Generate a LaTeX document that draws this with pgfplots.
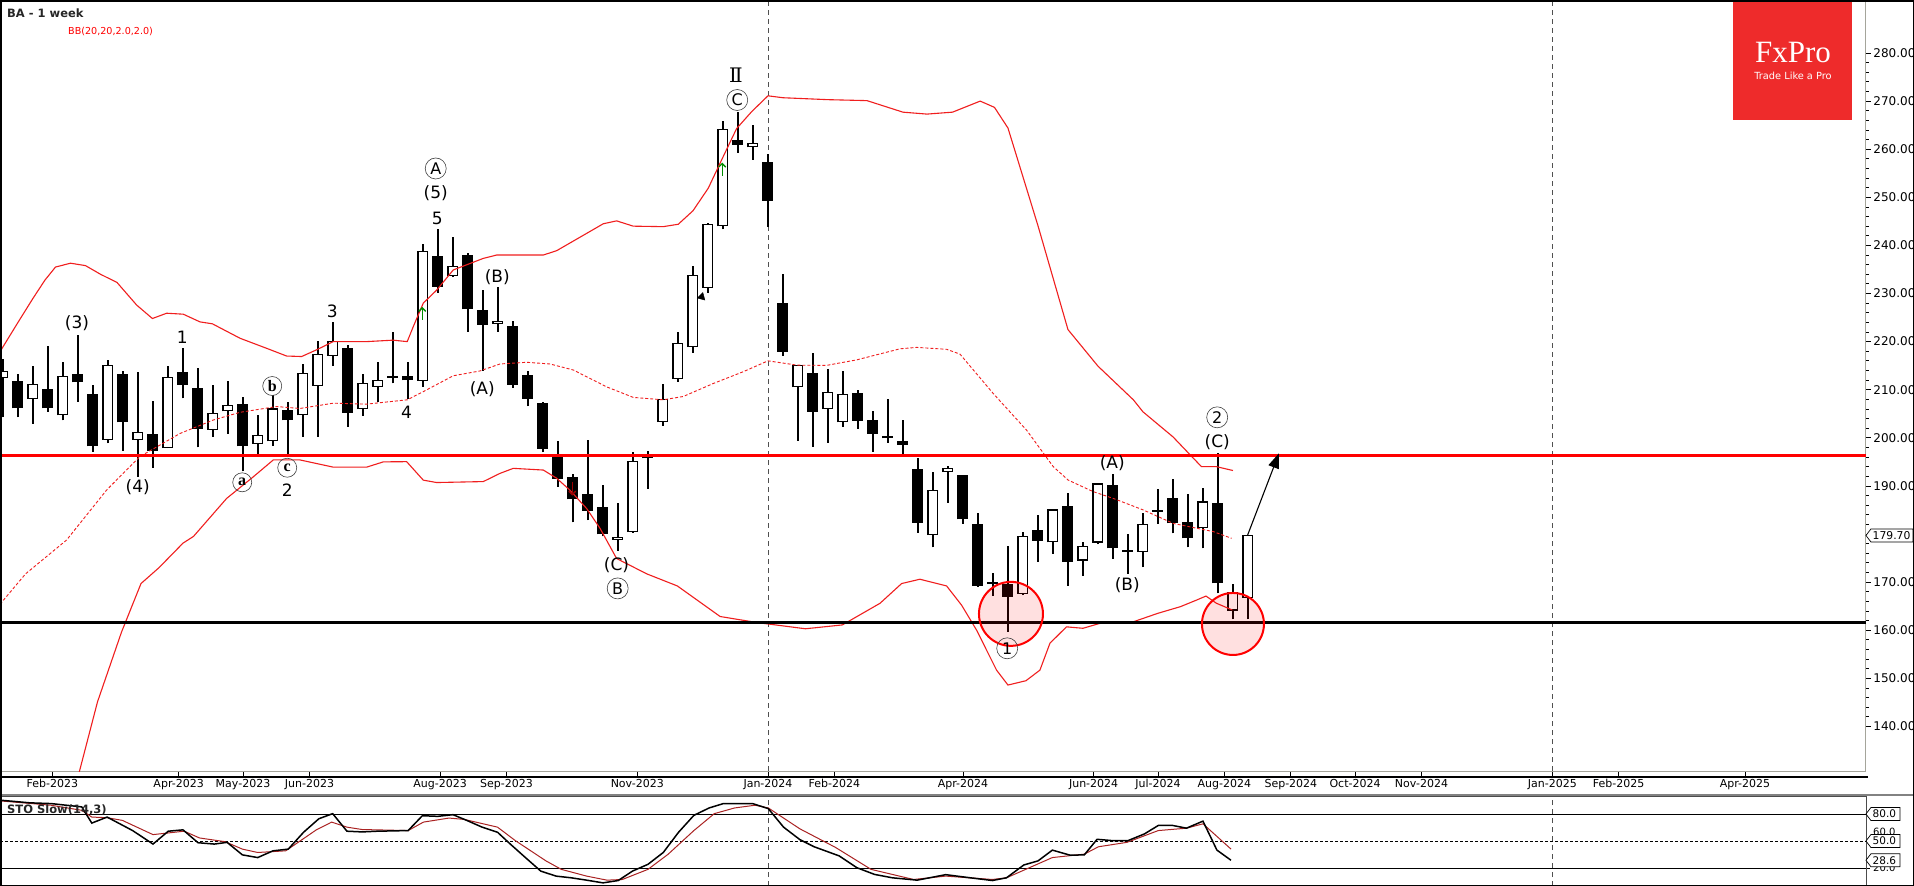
\documentclass[border=0pt]{standalone}
\usepackage{pgfplots}
\pgfplotsset{compat=1.18}
\usepackage{pgfplotstable}
\usepackage{fontspec}
\setmainfont{DejaVu Sans}
\newfontfamily\seriffont{Liberation Serif}
\newfontfamily\djserif{DejaVu Serif}
\usetikzlibrary{arrows.meta}
\definecolor{bbred}{RGB}{240,30,30}
\definecolor{stored}{RGB}{170,35,35}
\definecolor{logored}{RGB}{238,43,43}
\definecolor{framegray}{RGB}{165,165,155}
\definecolor{sepgray}{RGB}{130,130,130}
\definecolor{dashgray}{RGB}{80,80,80}
\newcommand\fs[1]{\fontsize{#1}{#1}\selectfont}

% up (white) candles
\pgfplotstableread{
i o h l c
-51 212.6 216.4 204.3 213.7
-49 208.2 214.9 202.9 211.1
-47 204.8 215.8 203.6 212.8
-44 199.7 216.2 198.9 215.1
-42 199.7 213.75 191.9 201.1
-40 198.0 214.9 198.0 212.6
-37 201.8 211.0 200.2 205.1
-36 205.6 211.8 200.8 206.75
-34 198.85 204.7 196.4 200.5
-33 199.4 208.9 198.4 206.0
-31 204.8 215.35 200.2 213.4
-30 210.9 220.1 200.2 217.4
-29 217.15 224.15 215.0 220.05
-27 206.1 213.2 204.6 211.3
-26 210.7 215.8 207.5 212.0
-23 211.95 240.3 210.6 238.7
-21 233.7 241.7 233.4 235.65
-18 223.8 231.4 222.1 224.15
-10 178.9 186.4 176.5 179.25
-9 180.5 197.0 180.3 195.1
-7 203.4 211.2 202.5 208.0
-6 212.3 221.9 211.7 219.65
-5 218.95 235.7 217.7 233.8
-4 231.3 244.6 230.2 244.4
-3 244.1 265.9 243.4 264.1
-1 260.5 265.0 257.8 261.1
2 210.6 215.2 199.4 215.05
4 206.1 214.3 199.0 209.45
5 203.35 213.9 202.3 209.0
11 179.9 192.8 177.2 189.1
12 193.0 194.1 186.5 193.65
17 167.65 180.35 167.3 179.45
19 178.4 185.1 175.85 185.0
21 174.6 178.4 171.3 177.35
22 178.35 190.5 177.9 190.4
25 176.45 184.3 173.1 182.0
29 181.4 189.5 177.0 186.65
31 164.2 169.6 162.3 167.8
32 166.8 179.7 162.3 179.7
}\upc

% down (black) candles and dashes
\pgfplotstableread{
i o h l c
-50 211.8 213.2 204.3 206.1
-48 210.1 219.1 205.4 206.1
-46 213.3 221.4 207.5 211.5
-45 209.1 210.9 197.1 198.2
-43 213.2 213.9 197.3 203.2
-41 200.7 207.7 193.8 197.3
-39 213.75 218.6 208.2 211.05
-38 210.3 214.45 198.0 201.8
-35 207.0 208.55 193.0 198.2
-32 205.8 207.4 196.1 203.6
-28 218.6 219.3 202.3 205.2
-25 212.9 221.9 211.3 212.5
-24 212.85 215.7 208.1 211.95
-22 237.8 243.35 230.2 231.4
-20 238.0 238.35 222.1 226.7
-19 226.6 230.7 213.95 223.5
-17 223.25 224.3 210.4 211.05
-16 213.05 213.9 206.6 208.1
-15 207.2 207.5 197.0 197.75
-14 196.55 199.4 189.85 191.5
-13 191.8 192.5 182.4 187.2
-12 188.25 199.55 182.9 184.85
-11 185.6 190.2 179.5 179.9
-8 196.1 197.3 189.4 195.7
-2 261.9 267.8 259.3 260.95
0 257.3 259.0 243.9 249.3
1 227.95 234.05 217.1 217.9
3 213.4 217.6 198.15 205.4
6 209.25 209.9 201.9 203.55
7 203.7 205.6 197.1 200.85
8 200.3 208.1 199.0 199.9
9 199.3 203.7 196.6 198.6
10 193.45 195.7 180.3 182.35
13 192.3 192.3 182.1 183.05
14 182.1 184.3 169.05 169.2
15 170.1 171.8 167.2 169.7
16 169.55 177.5 159.7 166.95
18 180.8 183.95 174.25 178.6
20 185.8 188.6 169.25 174.25
23 190.2 192.5 174.9 177.0
24 176.7 180.0 171.7 176.3
26 185.05 189.3 182.1 184.65
27 187.4 191.4 180.15 182.2
28 182.5 188.3 177.2 179.1
30 186.4 196.8 167.65 169.75
}\dnc

\pgfplotsset{candle/.style={only marks, mark size=0pt, mark options={draw=none, fill=none},
  error bars/y dir=plus, error bars/y explicit, error bars/error mark=none,
  error bars/error bar style={draw=#1}}}

\begin{document}
\begin{tikzpicture}
\useasboundingbox (0pt,0pt) rectangle (1914pt,-886pt);
\fill[white] (0pt,0pt) rectangle (1914pt,-886pt);

\begin{axis}[
  at={(0pt,0pt)}, anchor=north west,
  scale only axis, width=1866pt, height=771pt,
  xmin=-51.2, xmax=73.2, ymin=130.73, ymax=291.02,
  axis line style={draw=framegray, line width=1pt},
  tick align=outside,
  xtick pos=left, ytick pos=right, yticklabel pos=right,
  ytick={140,150,...,280}, minor y tick num=4,
  yticklabels={140.00,150.00,160.00,170.00,,190.00,200.00,210.00,220.00,230.00,240.00,250.00,260.00,270.00,280.00},
  major tick length=5pt, minor tick length=3pt,
  tick style={black, line width=0.8pt},
  xtick={-47.71,-39.29,-35,-30.57,-21.86,-17.43,-8.71,0,4.43,13,21.71,26,30.43,34.86,39.14,43.57,52.29,56.71,65.14},
  xticklabels={Feb-2023,Apr-2023,May-2023,Jun-2023,Aug-2023,Sep-2023,Nov-2023,Jan-2024,Feb-2024,Apr-2024,Jun-2024,Jul-2024,Aug-2024,Sep-2024,Oct-2024,Nov-2024,Jan-2025,Feb-2025,Apr-2025},
  xticklabel style={font=\fs{11}},
  yticklabel style={font=\fs{12}, xshift=-1pt},
]
% vertical dashed year separators
\addplot[dashgray, dash pattern=on 5pt off 4pt, line width=0.8pt] coordinates {(0,130.73) (0,291.02)};
\addplot[dashgray, dash pattern=on 5pt off 4pt, line width=0.8pt] coordinates {(52.29,130.73) (52.29,291.02)};

% wicks
\addplot[candle=black, error bars/error bar style={line width=1.1pt}]
  table[x=i, y=l, y error expr={\thisrow{h}-\thisrow{l}}] {\upc};
\addplot[candle=black, error bars/error bar style={line width=1.1pt}]
  table[x=i, y=l, y error expr={\thisrow{h}-\thisrow{l}}] {\dnc};
% black bodies
\addplot[candle=black, error bars/error bar style={line width=11pt}]
  table[x=i, y=c, y error expr={\thisrow{o}-\thisrow{c}}] {\dnc};
% white bodies: outline then fill
\addplot[candle=black, error bars/error bar style={line width=11pt}]
  table[x=i, y expr={\thisrow{o}-0.12}, y error expr={\thisrow{c}-\thisrow{o}+0.24}] {\upc};
\addplot[candle=white, error bars/error bar style={line width=8.6pt}]
  table[x=i, y expr={\thisrow{o}+0.12}, y error expr={max(\thisrow{c}-\thisrow{o}-0.24,0)}] {\upc};

% Bollinger bands
\addplot[bbred, line width=1.1pt] coordinates {(-51.2,217.9) (-50,224.0) (-49,229.0) (-48.2,232.8) (-47.5,235.5) (-46.5,236.3) (-45.5,235.8) (-44.5,234.0) (-43.4,232.3) (-42.09,227.6) (-41.04,224.8) (-40.09,225.9) (-38.98,225.7) (-37.87,224.1) (-37.04,223.7) (-35.2,220.7) (-33.42,218.6) (-32.09,217.0) (-31.09,216.9) (-30.09,218.3) (-28.98,220.0) (-26.76,220.0) (-25,220.3) (-24.05,220.0) (-23.65,223.1) (-22.98,228.0) (-22.09,230.7) (-20.98,234.9) (-18.98,237.3) (-18.09,238.0) (-14.98,238.0) (-14.09,238.9) (-12.09,242.5) (-10.98,244.5) (-10.09,245.1) (-8.98,244.0) (-6.98,243.9) (-5.98,244.4) (-5.0,247.2) (-3.98,251.9) (-2.98,258.5) (-2.09,264.3) (-1.09,267.8) (0,271.1) (1,270.7) (4,270.3) (6.6,270.1) (9,267.7) (10.6,267.3) (12.3,267.7) (14.15,270.0) (15.1,268.7) (16,264.4) (18,244.1) (20,222.5) (22,214.9) (24.36,207.9) (25,205.4) (27,200.2) (28.9,194.0) (29.9,194.0) (31,193.2)};
\addplot[bbred, line width=0.9pt, dash pattern=on 3pt off 2pt] coordinates {(-51.2,165.4) (-49.5,171.7) (-46.76,178.75) (-44.09,189.15) (-41.87,196.1) (-39.2,200.9) (-36.98,203.7) (-35.2,205.3) (-32.76,206.5) (-31.2,206.1) (-28.98,207.2) (-26.76,207.0) (-24.05,207.9) (-22.98,209.6) (-20.98,212.9) (-19.2,213.9) (-17.87,215.35) (-16.09,215.7) (-14.53,215.35) (-12.98,214.1) (-10.76,210.6) (-8.98,208.4) (-6.98,207.9) (-5.64,208.6) (-3.64,211.3) (-1.64,213.75) (0,216.0) (1.96,215.1) (3.91,215.06) (5.91,216.2) (8.8,218.5) (9.91,218.8) (11.91,218.4) (12.8,217.4) (15.02,209.2) (17.24,201.6) (19.02,194.0) (20.02,191.2) (21.69,188.8) (23.02,187.4) (25.02,185.0) (27.02,182.2) (28.58,181.2) (29.69,180.5) (30.91,179.1)};
\addplot[bbred, line width=1.1pt] coordinates {(-51.2,95) (-47,118) (-45.9,130.7) (-44.7,145.1) (-43.1,159.6) (-41.8,169.7) (-40.6,173.0) (-39.0,178.1) (-38.3,179.5) (-36.09,187.4) (-34.31,191.9) (-32.98,195.4) (-31.2,195.4) (-28.98,193.9) (-26.76,193.9) (-25.64,195.0) (-24.09,195.04) (-22.98,191.2) (-22.09,190.7) (-18.98,190.9) (-17.87,192.6) (-16.98,193.65) (-14.98,193.3) (-14.09,191.6) (-13.2,189.1) (-12.09,185.3) (-11.2,181.2) (-10.09,174.9) (-8.07,171.7) (-6.04,169.2) (-3.19,162.85) (-0.75,161.6) (2.5,160.3) (4.96,161.1) (7.47,165.6) (8.91,169.7) (10.13,170.6) (11.91,169.2) (12.91,165.2) (13.91,160.0) (15.24,151.7) (16.0,148.6) (17.2,149.5) (18.13,151.7) (18.8,157.3) (19.9,160.7) (21.0,160.4) (22.1,161.4) (23.5,161.6) (24.4,161.8) (25.98,163.5) (27.5,164.9) (28.6,166.3) (29.2,167.1) (29.9,165.6) (30.96,164.2)};

% horizontal levels
\addplot[red, line width=3pt] coordinates {(-51.2,196.3) (73.2,196.3)};
\addplot[black, line width=3pt] coordinates {(-51.2,161.5) (73.2,161.5)};

% small signal marker
\addplot[only marks, mark=triangle*, mark size=4.5pt, mark options={fill=black, draw=black, rotate=-15}] coordinates {(-4.42,229.3)};

% circles
\draw[red, line width=2pt, fill=red, fill opacity=0.12] (axis cs:16.2,163.4) circle[radius=32pt];
\draw[red, line width=2pt, fill=red, fill opacity=0.12] (axis cs:31.0,161.3) circle[radius=31pt];

% arrows
\draw[green!55!black, line width=1.3pt, -{Straight Barb[length=3.5pt,width=7pt]}] (axis cs:-23.05,224.5) -- (axis cs:-23.05,227.2);
\draw[green!55!black, line width=1.3pt, -{Straight Barb[length=3.5pt,width=7pt]}] (axis cs:-3.05,254.5) -- (axis cs:-3.05,257.2);
\draw[red!60!black, line width=1.3pt, -{Straight Barb[length=3.5pt,width=7pt]}] (axis cs:-13.05,190.8) -- (axis cs:-13.05,188.0);
\draw[black, line width=1.1pt, -{Triangle[length=15pt,width=11pt]}] (axis cs:31.98,179.8) -- (axis cs:34.07,196.8);

% wave labels
\begin{scope}[every node/.style={font=\fs{17}, inner sep=0pt}]
\node at (axis cs:-46.07,223.87) {(3)};
\node at (axis cs:-39.05,220.89) {1};
\node at (axis cs:-29.05,226.22) {3};
\node at (axis cs:-42.02,189.71) {(4)};
\node at (axis cs:-32.05,189.15) {2};
\node at (axis cs:-24.09,205.3) {4};
\node at (axis cs:-22.05,245.63) {5};
\node at (axis cs:-22.15,250.91) {(5)};
\node at (axis cs:-19.05,210.15) {(A)};
\node at (axis cs:-18.05,233.49) {(B)};
\node at (axis cs:-10.1,173.5) {(C)};
\node at (axis cs:22.95,194.7) {(A)};
\node at (axis cs:23.95,169.4) {(B)};
\node at (axis cs:29.95,199.06) {(C)};
\node[font=\djserif\fs{20}] at (axis cs:-2.13,275.4) {Ⅱ};
\end{scope}
\begin{scope}[every node/.style={circle, draw=black!75, line width=0.6pt, minimum size=21pt, inner sep=0pt, font=\fs{16}}]
\node at (axis cs:-22.15,255.99) {A};
\node at (axis cs:-10.02,168.69) {B};
\node at (axis cs:-2.05,270.23) {C};
\node at (axis cs:29.95,204.26) {2};
\node at (axis cs:15.95,156.24) {1};
\end{scope}
\begin{scope}[every node/.style={circle, draw=black!75, line width=0.6pt, minimum size=19pt, inner sep=0pt, font=\seriffont\bfseries\fs{16}}]
\node at (axis cs:-35.05,190.75) {a};
\node at (axis cs:-33.05,210.77) {b};
\node at (axis cs:-32.05,193.78) {c};
\end{scope}
\coordinate (tag) at (axis cs:73.2,179.7);
\end{axis}

% STO panel
\begin{axis}[
  at={(0pt,-796pt)}, anchor=north west,
  scale only axis, width=1866pt, height=90pt,
  xmin=-51.2, xmax=73.2, ymin=0, ymax=100,
  axis line style={draw=black!70, line width=0.8pt},
  xtick=\empty, ytick={20,50,80}, yticklabels={}, ytick pos=right,
  tick align=outside, major tick length=4pt, tick style={black, line width=0.8pt},
]
\addplot[black, line width=1pt] coordinates {(-51.2,80) (73.2,80)};
\addplot[black, line width=1pt, dash pattern=on 3pt off 2pt] coordinates {(-51.2,50) (73.2,50)};
\addplot[black, line width=1pt] coordinates {(-51.2,20) (73.2,20)};
\addplot[dashgray, dash pattern=on 5pt off 4pt, line width=0.8pt] coordinates {(0,0) (0,100)};
\addplot[dashgray, dash pattern=on 5pt off 4pt, line width=0.8pt] coordinates {(52.29,0) (52.29,100)};
\addplot[stored, line width=1pt] coordinates {(-51.2,94.6) (-47.8,89.75) (-45.75,84.1) (-45.08,76.6) (-44.06,75.9) (-43.04,72.9) (-41.0,57.1) (-38.92,60.9) (-37.9,53.4) (-36.2,49.25) (-35.04,41.0) (-34.02,37.25) (-32.15,39.1) (-30.11,62.4) (-29.09,71.0) (-28.07,65.4) (-27.05,62.75) (-23.99,61.6) (-22.97,71.0) (-21.27,75.5) (-20.25,74.0) (-18.03,65.4) (-16.84,50.4) (-14.8,27.9) (-13.78,18.5) (-12.09,11.0) (-10.73,6.5) (-9.71,7.25) (-8.0,18.5) (-6.65,35.4) (-4.94,61.6) (-3.58,80.4) (-2.22,86.75) (-0.86,89.75) (0.02,86.75) (2.13,63.5) (4.5,42.9) (6.87,18.5) (9.71,7.25) (11.85,11.0) (14.96,7.25) (15.9,9.1) (18.96,31.6) (21.09,35.4) (22.03,43.6) (23.93,48.5) (26.02,61.6) (27.9,64.25) (29.0,69.1) (30.87,41.0)};
\addplot[black, line width=1.5pt] coordinates {(-51.2,95.4) (-49.2,92.4) (-47.8,91.6) (-45.75,87.9) (-45.08,69.9) (-44.06,76.6) (-42.36,61.6) (-41.0,46.6) (-39.98,60.9) (-39.0,62.4) (-38.0,48.1) (-36.91,46.6) (-36.06,48.5) (-35.04,34.6) (-34.02,31.6) (-33.0,39.1) (-31.98,41.0) (-30.96,59.75) (-29.94,74.75) (-29.02,80.4) (-28.07,60.9) (-27.05,60.1) (-26.03,60.9) (-23.99,61.6) (-23.04,78.1) (-22.02,77.4) (-21.0,79.25) (-20.08,72.9) (-19.06,65.4) (-18.03,59.75) (-17.18,46.6) (-16.17,31.6) (-15.15,16.6) (-14.13,11.0) (-13.11,9.1) (-12.09,6.5) (-11.0,3.5) (-9.98,6.1) (-9.03,16.6) (-8.0,24.1) (-6.98,37.25) (-5.96,59.75) (-4.94,78.5) (-3.92,86.75) (-2.97,91.6) (-1.95,91.6) (-1.03,91.6) (0.02,86.0) (1.04,65.4) (2.13,51.5) (3.08,43.6) (4.74,33.5) (5.92,20.4) (7.1,12.9) (8.3,9.1) (9.95,6.5) (11.85,12.6) (13.5,9.1) (14.96,6.1) (15.9,9.1) (17.06,23.4) (18.0,27.9) (18.96,39.9) (20.14,34.25) (21.09,34.6) (21.94,51.9) (22.98,50.4) (24.0,50.4) (25.1,57.9) (26.02,67.25) (26.99,67.25) (27.9,64.25) (29.0,72.1) (29.93,39.9) (30.87,28.6)};
\coordinate (s80) at (axis cs:73.2,80);
\coordinate (s60) at (axis cs:73.2,60);
\coordinate (s50) at (axis cs:73.2,50);
\coordinate (s28) at (axis cs:73.2,28.6);
\coordinate (s20) at (axis cs:73.2,20);
\end{axis}

% separators and date axis line
\draw[black, line width=1.2pt] (0pt,-777pt) -- (1868pt,-777pt);
\draw[sepgray, line width=2.5pt] (0pt,-795pt) -- (1914pt,-795pt);

% right-hand tags
\newcommand\tagbox[4]{%
  \draw[black, line width=0.7pt, fill=white] (#1) -- ++(5pt,6.5pt) -- ++(#2,0pt) -- ++(0pt,-13pt) -- ++(-#2,0pt) -- cycle;
  \node[anchor=west, inner sep=0pt, font=\fs{#4}] at ([xshift=6.5pt]#1) {#3};}
\node[anchor=west, inner sep=0pt, font=\fs{10}] at ([xshift=7pt]s60) {60.0};
\node[anchor=west, inner sep=0pt, font=\fs{10}] at ([xshift=7pt]s20) {20.0};
\tagbox{tag}{42pt}{179.70}{10.8}
\tagbox{s80}{29pt}{80.0}{10.5}
\tagbox{s50}{29pt}{50.0}{10.5}
\tagbox{s28}{29pt}{28.6}{10.5}

% titles
\node[anchor=west, inner sep=0pt, font=\bfseries\fs{11.5}, text=black!85] at (7pt,-13pt) {BA - 1 week};
\node[anchor=west, inner sep=0pt, font=\fs{9.6}, text=red] at (68pt,-31pt) {BB(20,20,2.0,2.0)};
\node[anchor=west, inner sep=0pt, font=\bfseries\fs{11.5}, text=black!85] at (7pt,-810pt) {STO Slow(14,3)};

% logo
\fill[logored] (1733pt,0pt) rectangle (1852pt,-120pt);
\node[text=white, font=\seriffont\fs{31}, inner sep=0pt] at (1793pt,-53pt) {FxPro};
\node[text=white, font=\fs{9.8}, inner sep=0pt] at (1793pt,-76pt) {Trade Like a Pro};

% outer border
\draw[black, line width=1.5pt] (0.75pt,-0.75pt) rectangle (1913.25pt,-885.25pt);
\end{tikzpicture}
\end{document}
